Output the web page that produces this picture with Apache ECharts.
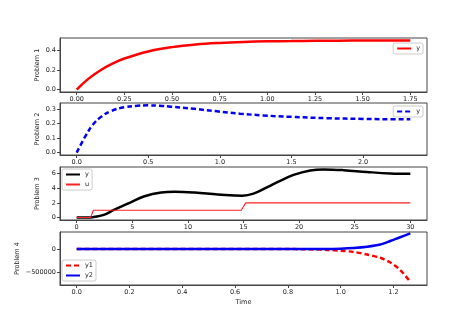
<!DOCTYPE html>
<html lang="en">
<head>
    <meta charset="UTF-8">
    <title>Problems 1-4</title>
    <script src="https://cdn.jsdelivr.net/npm/echarts@6/dist/echarts.min.js"></script>
    <style>
        html, body { margin: 0; padding: 0; background: #fff; }
        #chart_main { width: 474px; height: 320px; }
    </style>
</head>
<body>
<div id="chart_main"></div>
<script>
  // Problem 1
  var p1Time = [0, 0.0625, 0.125, 0.1875, 0.25, 0.375, 0.5, 0.625, 0.75, 0.875, 1.0, 1.125, 1.25, 1.375, 1.5, 1.625, 1.75];
  var p1Y = [0, 0.111, 0.197, 0.264, 0.316, 0.388, 0.432, 0.459, 0.475, 0.485, 0.491, 0.494, 0.497, 0.498, 0.499, 0.499, 0.5];
  // Problem 2
  var p2Time = [0, 0.056, 0.113, 0.171, 0.24, 0.333, 0.42, 0.495, 0.58, 0.657, 0.82, 0.98, 1.14, 1.3, 1.5, 1.75, 2.0, 2.15, 2.33];
  var p2Y = [0, 0.104, 0.191, 0.246, 0.285, 0.311, 0.321, 0.324, 0.321, 0.315, 0.300, 0.283, 0.267, 0.255, 0.245, 0.236, 0.231, 0.229, 0.228];
  // Problem 3
  var p3Time = [0, 1.0, 1.6, 2.5, 3.3, 4.9, 6.1, 7.6, 8.8, 10.6, 12.7, 14.9, 15.9, 17.1, 18.3, 19.5, 21.0, 22.2, 24.0, 26.1, 28.2, 30];
  var p3Y = [0, 0, 0.1, 0.4, 1.0, 2.1, 2.9, 3.4, 3.5, 3.4, 3.15, 2.97, 3.25, 4.1, 5.0, 5.8, 6.4, 6.55, 6.45, 6.2, 6.0, 5.95];
  var p3UTime = [0, 1.25, 1.5, 14.8, 15.2, 30];
  var p3U = [0, 0, 1, 1, 2, 2];
  // Problem 4
  var p4Time = [0, 0.8, 0.85, 0.9, 0.95, 1.0, 1.05, 1.1, 1.15, 1.19, 1.225, 1.264];
  var p4Y1 = [0, -1000, -3000, -8000, -18000, -35000, -62000, -115000, -185000, -290000, -440000, -690000];
  var p4Y2 = [0, 0, 0, 1000, 3000, 8000, 22000, 48000, 95000, 175000, 250000, 330000];

  // tick labels
  var p1XTicks = [0, 0.25, 0.5, 0.75, 1.0, 1.25, 1.5, 1.75];
  var p1YTicks = [0, 0.2, 0.4];
  var p2XTicks = [0, 0.5, 1.0, 1.5, 2.0];
  var p2YTicks = [0, 0.1, 0.2, 0.3];
  var p3XTicks = [0, 5, 10, 15, 20, 25, 30];
  var p3YTicks = [0, 2, 4, 6];
  var p4XTicks = [0, 0.2, 0.4, 0.6, 0.8, 1.0, 1.2];
  var p4YTicks = [-500000, 0];

  var FONT = 'DejaVu Sans';
  var AXIS_COLOR = '#444';

  function zip(xs, ys) {
    var res = [];
    for (var i = 0; i < xs.length; i++) {
      res.push([xs[i], ys[i]]);
    }
    return res;
  }

  function fmt(digits) {
    return function(v) {
      if (v < 0) return '\u2212' + Math.abs(v).toFixed(digits);
      return v.toFixed(digits);
    };
  }

  function xAxisFor(gi, min, max, ticks, digits, name) {
    return {
      type: 'value', gridIndex: gi, min: min, max: max,
      splitLine: {show: false},
      axisLine: {show: true, onZero: false, lineStyle: {color: AXIS_COLOR, width: 1}},
      axisTick: {show: true, length: 3, customValues: ticks, lineStyle: {color: AXIS_COLOR}},
      axisLabel: {customValues: ticks, margin: 4, fontSize: 6.5, color: '#222', fontFamily: FONT, formatter: fmt(digits)},
      name: name || '', nameLocation: 'middle', nameGap: 14, nameMoveOverlap: false,
      nameTextStyle: {fontSize: 6.5, color: '#222', fontFamily: FONT}
    };
  }

  function yAxisFor(gi, min, max, ticks, digits, name, gap) {
    return {
      type: 'value', gridIndex: gi, min: min, max: max,
      splitLine: {show: false},
      axisLine: {show: true, onZero: false, lineStyle: {color: AXIS_COLOR, width: 1}},
      axisTick: {show: true, length: 3, customValues: ticks, lineStyle: {color: AXIS_COLOR}},
      axisLabel: {customValues: ticks, margin: 4, fontSize: 6.5, color: '#222', fontFamily: FONT, formatter: fmt(digits)},
      name: name, nameLocation: 'middle', nameGap: gap, nameMoveOverlap: false,
      nameTextStyle: {fontSize: 6.5, color: '#222', fontFamily: FONT}
    };
  }

  function gridAt(top, height) {
    return {left: 60, right: 47, top: top, height: height, show: true,
      borderColor: AXIS_COLOR, borderWidth: 1, backgroundColor: 'transparent'};
  }

  function legendAt(pos, names) {
    var l = {
      data: names, orient: 'vertical',
      itemWidth: 14, itemHeight: 7, itemGap: 3,
      padding: [2, 3], borderColor: '#ccc', borderWidth: 1, borderRadius: 2,
      backgroundColor: 'rgba(255,255,255,0.8)',
      itemStyle: {opacity: 0, borderWidth: 0},
      textStyle: {fontSize: 6.5, color: '#222', fontFamily: FONT},
      formatter: function(name) { return name.split(' ')[1]; }
    };
    for (var k in pos) l[k] = pos[k];
    return l;
  }

  function lineSeries(name, gi, data, color, width, dash, smooth) {
    return {
      name: name, type: 'line', xAxisIndex: gi, yAxisIndex: gi,
      data: data, symbol: 'none', showSymbol: false,
      smooth: smooth,
      lineStyle: {color: color, width: width, type: dash || 'solid'},
      itemStyle: {color: color}
    };
  }

  var myChart = echarts.init(document.getElementById('chart_main'));
  var option = {
    animation: false,
    backgroundColor: '#fff',
    grid: [gridAt(38, 54), gridAt(103, 52), gridAt(167, 53), gridAt(232, 53)],
    xAxis: [
      xAxisFor(0, -0.0875, 1.8375, p1XTicks, 2),
      xAxisFor(1, -0.1165, 2.4465, p2XTicks, 1),
      xAxisFor(2, -1.5, 31.5, p3XTicks, 0),
      xAxisFor(3, -0.0632, 1.3272, p4XTicks, 1, 'Time')
    ],
    yAxis: [
      yAxisFor(0, -0.025, 0.525, p1YTicks, 1, 'Problem 1', 19),
      yAxisFor(1, -0.0162, 0.340, p2YTicks, 1, 'Problem 2', 19),
      yAxisFor(2, -0.33, 6.88, p3YTicks, 0, 'Problem 3', 19),
      yAxisFor(3, -760000, 360000, p4YTicks, 0, 'Problem 4', 39)
    ],
    legend: [
      legendAt({right: 51, top: 43}, ['P1 y']),
      legendAt({right: 51, top: 106}, ['P2 y']),
      legendAt({left: 62, top: 169}, ['P3 y', 'P3 u']),
      legendAt({left: 62, top: 260}, ['P4 y1', 'P4 y2'])
    ],
    series: [
      lineSeries('P1 y', 0, zip(p1Time, p1Y), '#ff0000', 2.5, null, 0.4),
      lineSeries('P2 y', 1, zip(p2Time, p2Y), '#0000ee', 2.5, [5, 3], 0.4),
      lineSeries('P3 y', 2, zip(p3Time, p3Y), '#000000', 2.5, null, 0.4),
      lineSeries('P3 u', 2, zip(p3UTime, p3U), '#ff2020', 1.1, null, false),
      lineSeries('P4 y1', 3, zip(p4Time, p4Y1), '#ff0000', 2.5, [5, 3], 0.3),
      lineSeries('P4 y2', 3, zip(p4Time, p4Y2), '#0000ee', 2.5, null, 0.3)
    ]
  };
  myChart.setOption(option);
</script>
</body>
</html>
